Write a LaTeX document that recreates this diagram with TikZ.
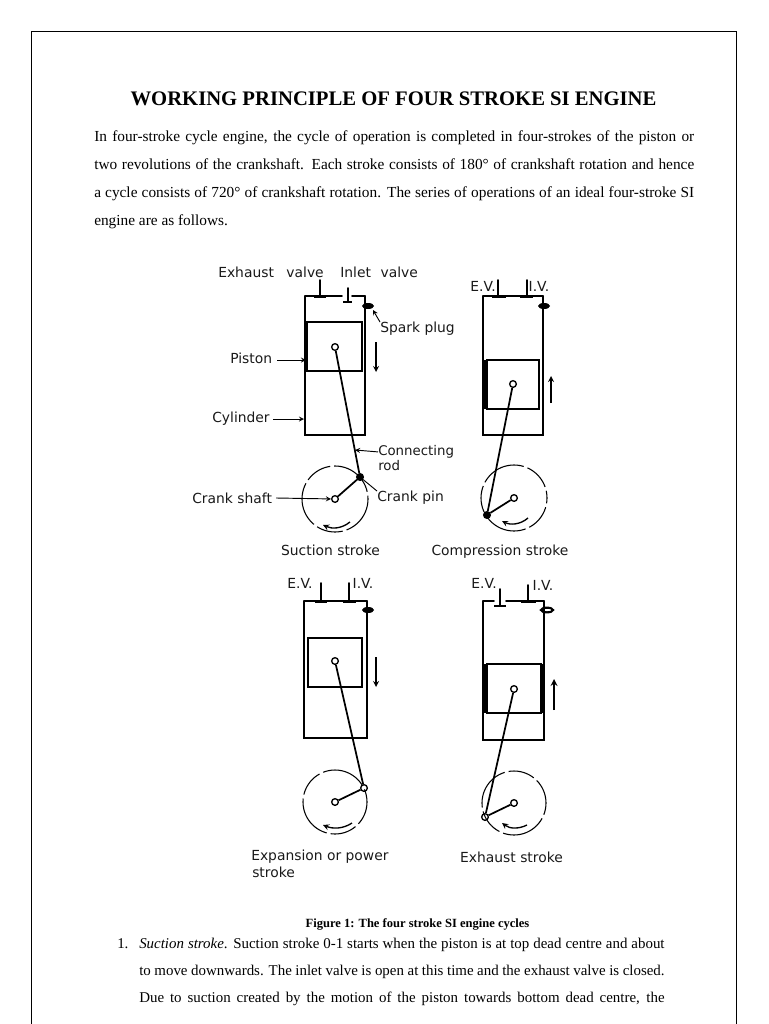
\documentclass[tikz,border=0pt]{standalone}
\usepackage{fontspec}
\setmainfont{Liberation Serif}
\newfontfamily\labelfont{DejaVu Sans}
\usetikzlibrary{shapes.geometric}
\tikzset{
  wall/.style={line width=1.4pt,line cap=round},
  rodline/.style={line width=1.3pt},
  lead/.style={line width=0.7pt,-stealth},
  motion/.style={line width=1pt,-stealth},
  seat/.style={line width=1.6pt},
  pinnode/.style={circle,draw,line width=1pt,inner sep=0pt,minimum size=5pt},
  plugnode/.style={ellipse,fill,inner sep=0pt,minimum width=9pt,minimum height=4.5pt},
  lbl/.style={font=\labelfont\fontsize{10.4}{12}\selectfont,inner sep=0pt,text=black!90},
  lblr/.style={lbl,anchor=west}
}
\begin{document}
\begin{tikzpicture}[x=0.75pt,y=-0.75pt]
  \useasboundingbox (0,0) rectangle (768,1024);
  \draw[line width=0.6pt] (31,1024) -- (31,31) -- (736,31) -- (736,1024);

  % heading and text
  \node[font=\bfseries\fontsize{15.5}{17}\selectfont,inner sep=0pt] (title) at (393.5,99)
    {WORKING PRINCIPLE OF FOUR STROKE SI ENGINE};
  \node[anchor=north west,inner sep=0pt,text width=450pt,align=justify,
        font=\fontsize{11.5}{21}\selectfont] (intro) at (94,130) {
    In four-stroke cycle engine, the cycle of operation is completed in four-strokes of the piston or\linebreak
    two revolutions of the crankshaft. Each stroke consists of 180\textdegree{} of crankshaft rotation and hence\linebreak
    a cycle consists of 720\textdegree{} of crankshaft rotation. The series of operations of an ideal four-stroke SI\linebreak
    engine are as follows.};
  \node[font=\bfseries\fontsize{9.4}{11}\selectfont,inner sep=0pt] (caption) at (417.5,924)
    {Figure 1: The four stroke SI engine cycles};
  \node[anchor=north west,inner sep=0pt,font=\fontsize{11.2}{20.2}\selectfont] (num) at (117,938) {1.};
  \node[anchor=north west,inner sep=0pt,text width=394pt,align=justify,
        font=\fontsize{11.2}{20.2}\selectfont] (para) at (139,938) {
    \textit{Suction stroke}. Suction stroke 0-1 starts when the piston is at top dead centre and about\linebreak
    to move downwards. The inlet valve is open at this time and the exhaust valve is closed.\linebreak
    Due to suction created by the motion of the piston towards bottom dead centre, the\linebreak};

  % the four engines: cylinder, piston, rod and crank
  \foreach \n/\cl/\cr/\ct/\cb/\pl/\pr/\pt/\pb/\ax/\ay/\bx/\by/\kx/\ky/\rr/\fc/\ph in {
    1/305/365/296/435/307/362/322/371/335/347/335/499/360/477/33/black/4,
    2/483/543/296/435/487/539/360/409/513/384/514/498/487/515/33/black/30,
    3/304/367/601/738/308/362/638/687/335/661/335/802/364/788/32/white/16,
    4/483/544/601/740/487/541/664/713/514/689/514/803/485/817/32/white/48}{
    \draw[wall] (\cl,\ct) -- (\cl,\cb) -- (\cr,\cb) -- (\cr,\ct);
    \draw[wall] (\pl,\pt) rectangle (\pr,\pb);
    \node[pinnode,fill=white] (gudgeon\n) at (\ax,\ay) {};
    \node[pinnode,fill=white] (shaft\n) at (\bx,\by) {};
    \node[pinnode,fill=\fc] (crankpin\n) at (\kx,\ky) {};
    \draw[rodline] (gudgeon\n) -- (crankpin\n);
    \draw[rodline] (shaft\n) -- (crankpin\n);
    \draw[line width=0.8pt,dash pattern=on 34pt off 3pt on 20pt off 3pt,dash phase=\ph pt]
      (\bx,\by) circle (\rr);
  }

  % heavy piston sides
  \draw[line width=2.4pt] (306,322) -- (306,371);
  \draw[line width=2.4pt] (485,360) -- (485,409);
  \draw[line width=2.4pt] (485.5,664) -- (485.5,713);
  \draw[line width=2.4pt] (542,664) -- (542,713);

  % valves
  \draw[wall] (305,296) -- (342,296) (352,296) -- (365,296);
  \draw[wall] (320,280) -- (320,296);
  \draw[seat] (314,297) -- (326,297);
  \draw[wall] (348,288) -- (348,302);
  \draw[seat] (343,302) -- (352,302);

  \draw[wall] (483,296) -- (543,296);
  \draw[wall] (498,280) -- (498,296);
  \draw[seat] (492,297) -- (506,297);
  \draw[wall] (527,280) -- (527,296);
  \draw[seat] (520,297) -- (533,297);

  \draw[wall] (304,601) -- (367,601);
  \draw[wall] (321,583) -- (321,601);
  \draw[seat] (315,602) -- (327,602);
  \draw[wall] (349,583) -- (349,601);
  \draw[seat] (343,602) -- (356,602);

  \draw[wall] (483,601) -- (494,601) (506,601) -- (544,601);
  \draw[wall] (500,589) -- (500,606);
  \draw[seat] (494,606) -- (506,606);
  \draw[wall] (528,585) -- (528,601);
  \draw[seat] (521,602) -- (536,602);

  % spark plugs
  \node[plugnode] (plug1) at (368,306) {};
  \node[plugnode] (plug2) at (544,306) {};
  \node[plugnode] (plug3) at (368,610) {};
  \node[plugnode,fill=none,draw,line width=1.6pt,minimum width=9pt,minimum height=3.5pt] (plug4) at (547,610) {};

  % piston motion
  \draw[motion] (376,342) -- (376,372);
  \draw[motion] (551,403) -- (551,376);
  \draw[motion] (376,657) -- (376,687);
  \draw[motion,line width=1.3pt] (554,710) -- (554,679);

  % crank rotation
  \draw[motion] (350,522) .. controls (341,529) and (332,529) .. (323,525);
  \draw[motion] (528,518) .. controls (520,525) and (510,525) .. (502,521);
  \draw[motion] (352,823) .. controls (343,829) and (333,829) .. (323,825);
  \draw[motion] (527,825) .. controls (519,829) and (510,829) .. (502,823);

  % labels of the first engine
  \node[lblr] (exhaustlbl) at (218,272) {Exhaust\hspace{0.9em}valve};
  \node[lblr] (inletlbl) at (340,272) {Inlet\hspace{0.7em}valve};
  \node[lblr] (sparklbl) at (380,329) {Spark plug};
  \node[lblr] (pistonlbl) at (230,358) {Piston};
  \node[lblr] (cylinderlbl) at (212,419) {Cylinder};
  \node[lblr,align=left,font=\labelfont\fontsize{10}{11.5}\selectfont] (rodlbl) at (378,458) {Connecting\\rod};
  \node[lblr] (shaftlbl) at (192,498) {Crank shaft};
  \node[lblr] (pinlbl) at (377,498) {Crank pin};
  \coordinate (sparkend) at (373,310);
  \coordinate (pistonend) at (306,360);
  \coordinate (cylinderend) at (304,419);
  \coordinate (rodend) at (355,450);
  \draw[lead] (sparklbl.north west) -- (sparkend);
  \draw[lead] (pistonlbl.east) ++(5,2) -- (pistonend);
  \draw[lead] (cylinderlbl.east) ++(3,0) -- (cylinderend);
  \draw[lead] (rodlbl.north west) ++(0,7) -- (rodend);
  \draw[lead] (shaftlbl.east) ++(4,0) -- (shaft1);
  \draw[line width=0.7pt] (pinlbl.north west) -- (crankpin1);

  % labels of the other engines
  \node[lbl] (ev2) at (483,286) {E.V.};
  \node[lbl] (iv2) at (539,286) {I.V.};
  \node[lbl] (ev3) at (300,583) {E.V.};
  \node[lbl] (iv3) at (363,583) {I.V.};
  \node[lbl] (ev4) at (484,583) {E.V.};
  \node[lbl] (iv4) at (543,585) {I.V.};
  \node[lbl,anchor=base] (suction) at (330.5,555) {Suction stroke};
  \node[lbl,anchor=base] (compression) at (500,555) {Compression stroke};
  \node[lblr,anchor=base west] (expansion) at (251,860) {Expansion or power};
  \node[lblr,anchor=base west] (powerstroke) at (252,877) {stroke};
  \node[lbl,anchor=base] (exhauststroke) at (511.5,862) {Exhaust stroke};
\end{tikzpicture}
\end{document}
